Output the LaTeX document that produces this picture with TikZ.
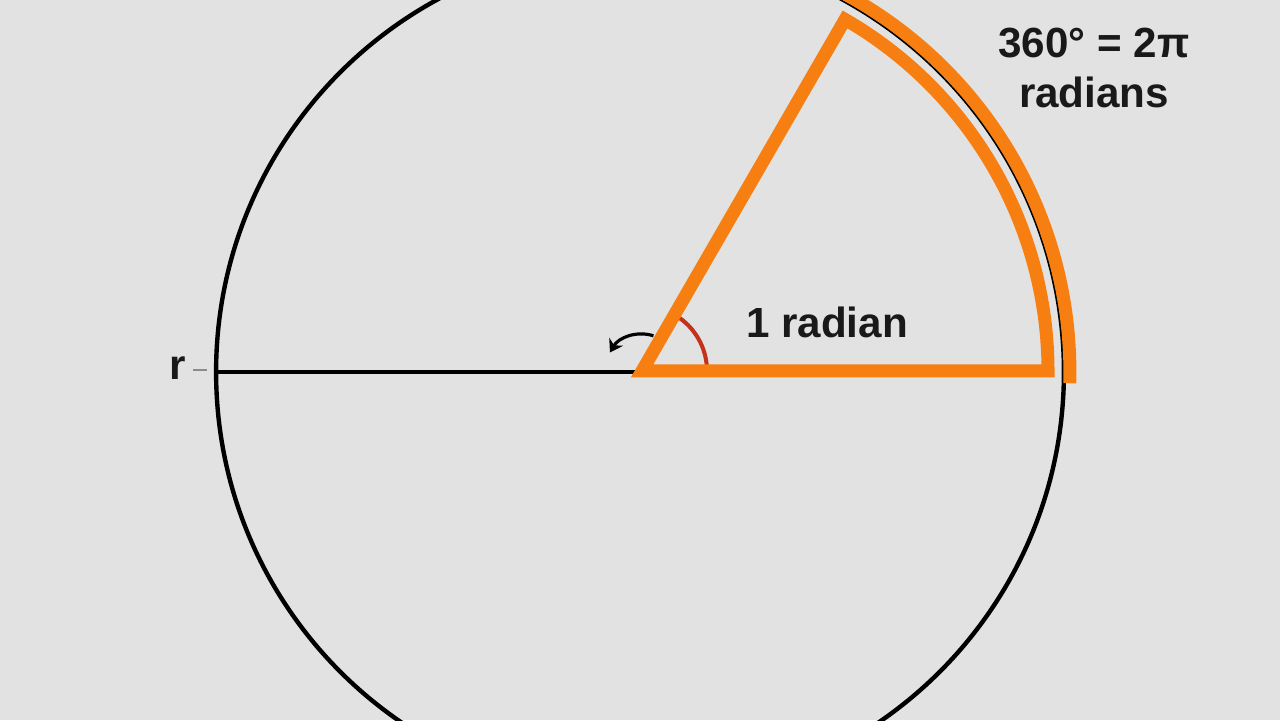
\documentclass[tikz,border=0pt]{standalone}
\usepackage{fontspec}
\setmainfont{Liberation Sans}
\usetikzlibrary{arrows.meta}
\definecolor{bggray}{RGB}{226,226,226}
\definecolor{arcorange}{RGB}{247,127,18}
\definecolor{anglered}{RGB}{196,50,28}
\tikzset{
  orangeline/.style={draw=arcorange,line width=7.4pt},
  blackline/.style={draw=black,line width=2.5pt},
  lbl/.style={font=\fontsize{24}{28.4}\selectfont\bfseries,text=black!90,align=center,inner sep=0pt}
}
\begin{document}
\begin{tikzpicture}[x=0.02cm,y=0.02cm]
\useasboundingbox (0,0) rectangle (1280,720);
\fill[bggray] (0,0) rectangle (1280,720);
\clip (0,0) rectangle (1280,720);
% circle and radius
\coordinate (O) at (640,348);
\coordinate (V) at (642,349);
\coordinate (L) at (216,348);
\coordinate (R) at (636,348);
\draw[blackline] (O) circle[radius=8.48cm];
\draw[blackline] (L) -- (R);
% angle marks
\draw[anglered,line width=2.3pt] (V) ++(1.3cm,0) arc[start angle=0,end angle=60,radius=1.3cm];
\draw[black,line width=1.8pt,-{Stealth[length=7pt,width=9pt]}] (V) ++(72:0.74cm) arc[start angle=72,end angle=150,radius=0.74cm];
% sector
\draw[orangeline,line join=miter] (V) -- ++(406,0) arc[start angle=0,end angle=60,radius=8.12cm] -- cycle;
% full turn arc
\draw[orangeline] (O) ++(-1.5:8.6cm) arc[start angle=-1.5,end angle=66,radius=8.6cm];
% labels
\node[lbl] (rlabel) at (178,352) {r};
\coordinate (dashend) at (207,350);
\draw[black!45,line width=0.9pt] (193,350) -- (dashend);
\node[lbl] (onerad) at (827,398) {1 radian};
\node[lbl] (fullturn) at (1094,652) {360° = 2π\\radians};
\end{tikzpicture}
\end{document}
